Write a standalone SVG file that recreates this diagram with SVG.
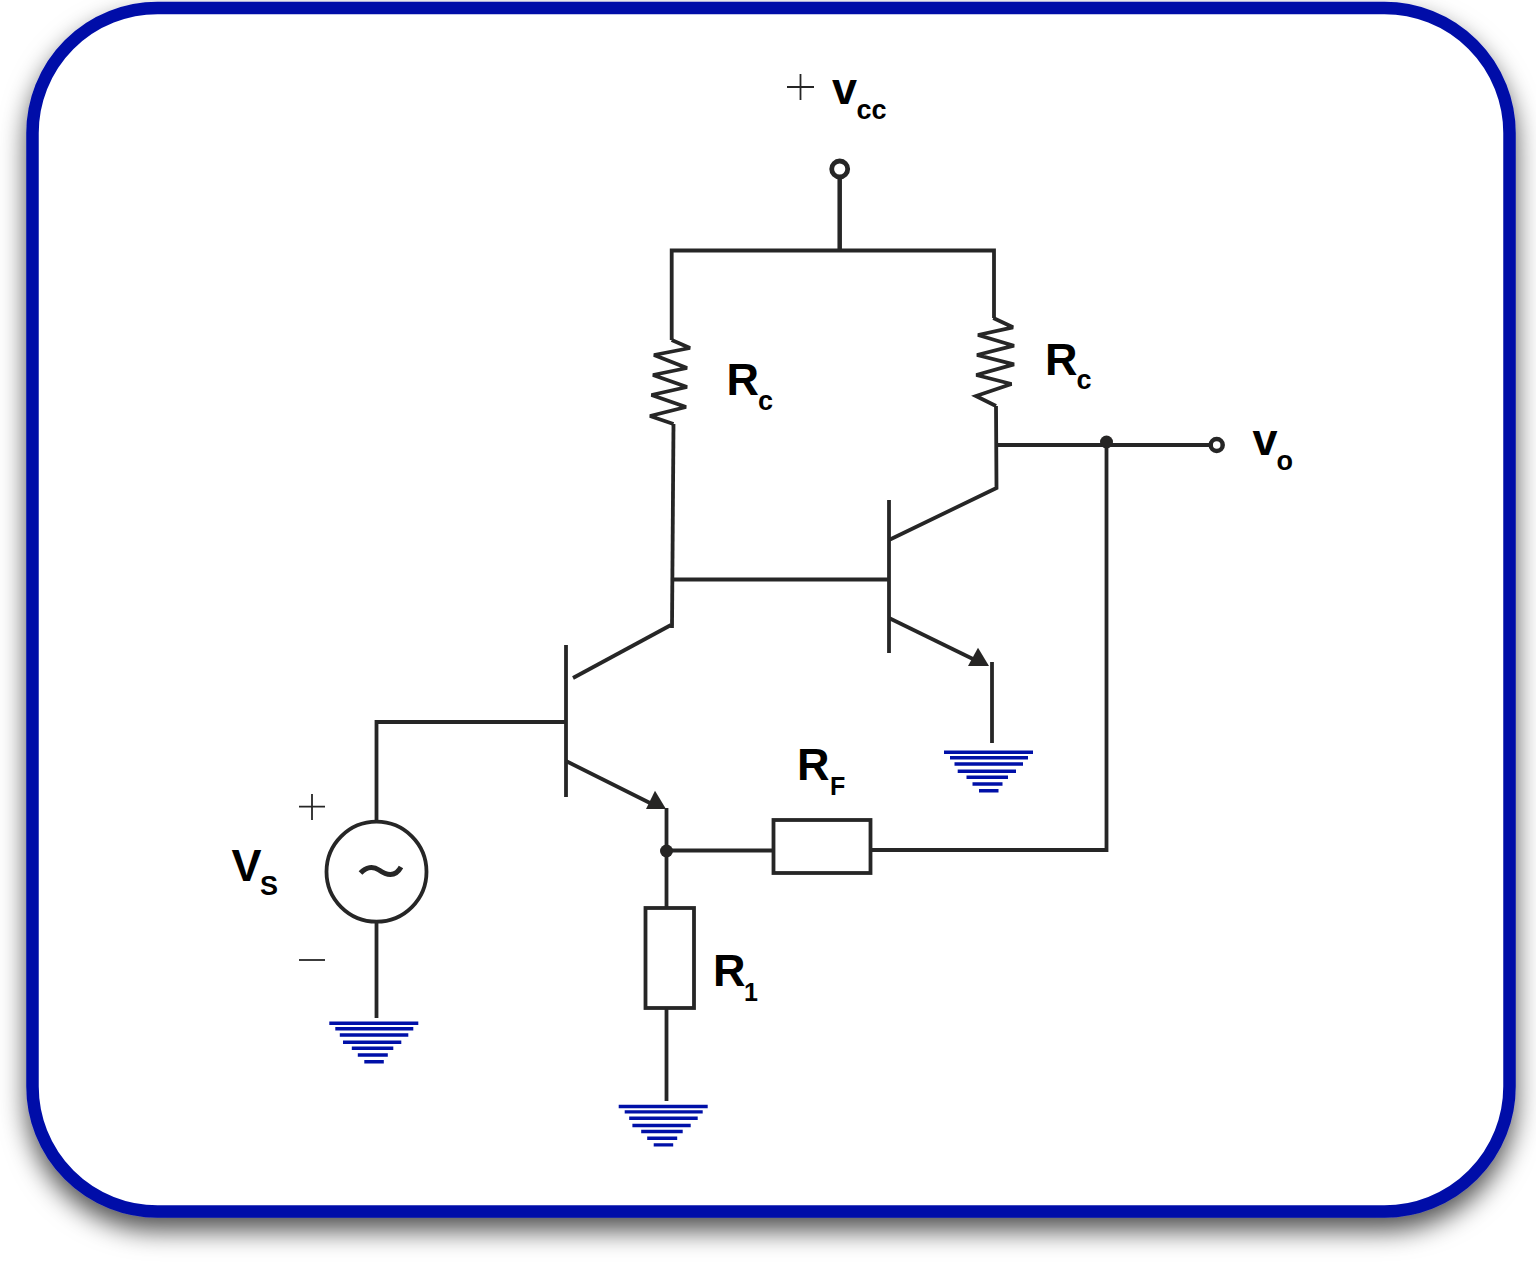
<svg xmlns="http://www.w3.org/2000/svg" width="1536" height="1262" viewBox="0 0 1536 1262">
<style>
.w{fill:none;stroke:#262626;stroke-width:3.800;stroke-linejoin:miter}
.z{fill:none;stroke:#262626;stroke-width:3.800;stroke-linejoin:miter;stroke-miterlimit:3}
.th{fill:none;stroke:#262626;stroke-width:1.800}
.g{stroke:#0010a8;stroke-width:3.400;fill:none}
.a{fill:#262524;stroke:none}
.t{font-family:"Liberation Sans",Arial,sans-serif;font-weight:700;fill:#000}
.b{font-size:45px}.s{font-size:27px}
</style>
<defs>
<filter id="sh" x="-5%" y="-5%" width="110%" height="112%"><feDropShadow dx="0" dy="13" stdDeviation="13" flood-color="#000" flood-opacity="0.68"/></filter>
<g id="gnd"><path class="g" d="M0 0H89M6 5.400H84M10.500 11.700H79M13.700 19H72M22.500 25H64M28.500 31.700H58.500M35 38.400H54.500"/></g>
</defs>
<rect width="1536" height="1262" fill="#fff"/>
<rect id="panel" x="32.500" y="8" width="1477" height="1203.500" rx="125" ry="125" fill="#fff" stroke="#0010a8" stroke-width="12.500" filter="url(#sh)"/>
<g id="connectors">
<path class="w" style="stroke-width:4.500" d="M839.700 178V250"/>
<path class="w" d="M671.700 340V250.500H994V318"/>
<path class="w" d="M673.500 424L672 628"/>
<path class="w" d="M996 406L996.500 488L889 540"/>
<path class="w" d="M997 445H1211"/>
<path class="w" d="M1106.500 442V850H871"/>
<path class="w" d="M672 579.500H889"/>
<path class="w" d="M889 618L975 660"/>
<path class="w" d="M992 662V743"/>
<path class="w" d="M573 678L671 625"/>
<path class="w" d="M376.500 822V722H566"/>
<path class="w" d="M566 761L650 803"/>
<path class="w" d="M666.500 808V908"/>
<path class="w" d="M666.500 850.500H773"/>
<path class="w" d="M666.500 1008V1101"/>
<path class="w" d="M376.500 922V1018"/>
</g>
<g id="vcc-terminal"><circle cx="839.700" cy="169" r="8" fill="#fff" stroke="#262626" stroke-width="4.800"/></g>
<g id="vo-terminal"><circle cx="1216.700" cy="445" r="6" fill="#fff" stroke="#262626" stroke-width="4.500"/></g>
<g id="junction-out"><circle class="a" cx="1106.500" cy="442" r="6.500"/></g>
<g id="junction-emitter"><circle class="a" cx="666.500" cy="851" r="6.500"/></g>
<g id="rc-left"><path class="z" d="M671.700 340L690 348L654 355L687 368L653 375L687 387L651.500 395L686 407L650 416L673.500 424"/></g>
<g id="rc-right"><path class="z" d="M993.300 318L1013 327.300L978 335L1014 345.700L977 355L1014 364.300L976.300 375L1011.500 384L976 396L996 406"/></g>
<g id="q1"><path class="w" d="M566 645V797"/><path class="a" d="M655 790.700L646 809H666Z"/></g>
<g id="q2"><path class="w" d="M889 500V653"/><path class="a" d="M978 647.700L968 666H989Z"/></g>
<g id="rf"><rect class="w" x="773.500" y="820" width="97" height="53"/></g>
<g id="r1"><rect class="w" x="645.500" y="908" width="48.500" height="100"/></g>
<g id="source"><circle class="w" cx="376.500" cy="871.700" r="50"/>
<path class="w" style="stroke-width:5" d="M360.500 873C366 867 373 866 379 870C386 875 395 878 401 867"/></g>
<g id="signs"><path class="th" d="M787 87H814M800.500 74V100"/><path class="th" d="M299 806.700H325M312 794V820"/><path class="th" d="M299 960H325"/></g>
<g id="ground-1"><use href="#gnd" x="329.300" y="1023.300"/></g>
<g id="ground-2"><use href="#gnd" x="618.700" y="1106.500"/></g>
<g id="ground-3"><use href="#gnd" x="944" y="752.300"/></g>
<g id="labels">
<text class="t b" x="832" y="104">v</text><text class="t s" x="856.500" y="118.700">cc</text>
<text class="t b" x="726.500" y="395">R</text><text class="t s" x="758" y="410">c</text>
<text class="t b" x="1045" y="375">R</text><text class="t s" x="1076.500" y="389">c</text>
<text class="t b" x="1252.500" y="455">v</text><text class="t s" x="1276.500" y="470">o</text>
<text class="t b" x="231.500" y="881">V</text><text class="t s" x="260" y="895">S</text>
<text class="t b" x="797" y="780">R</text><text class="t" font-size="25" x="830" y="795">F</text>
<text class="t b" x="713" y="986">R</text><text class="t" font-size="25" x="744" y="1001">1</text>
</g>
</svg>
